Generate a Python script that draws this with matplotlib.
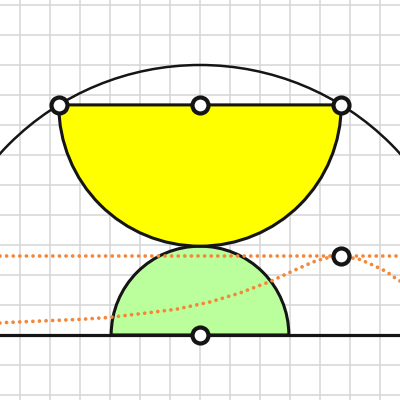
import matplotlib
matplotlib.use("Agg")
import matplotlib.pyplot as plt
import matplotlib.patches as patches
import numpy as np

# construction values (grid units, origin at centre of base line)
big_radius = 9.0
chord_height = 7.67
level_value = 2.63

# orange curve
curve_x = [-6.67, -6.61, -5.23, -4.0, -3.1, -2.23, -1.9, -0.78, 0.33, 1.33,
           2.33, 3.11, 3.78, 4.17, 4.73, 5.33, 5.83, 6.22, 6.56, 6.67]
curve_y = [0.40, 0.41, 0.47, 0.52, 0.58, 0.68, 0.72, 0.86, 1.10, 1.40,
           1.78, 2.14, 2.44, 2.56, 2.63, 2.52, 2.30, 2.11, 1.86, 1.80]

orange = "#f5873a"
ink = "#151515"

fig = plt.figure(figsize=(4, 4), dpi=100)
ax = fig.add_axes([0, 0, 1, 1])
ax.set_xlim(-200 / 30, 200 / 30)
ax.set_ylim(-65 / 30, 335 / 30)
ax.axis("off")

# grid
for gx in np.arange(-6, 7):
    ax.axvline(gx, color="#d6d6d6", lw=1.1, zorder=0)
for gy in np.arange(-2, 12):
    ax.axhline(gy, color="#d6d6d6", lw=1.1, zorder=0)

half_chord = np.sqrt(big_radius ** 2 - chord_height ** 2)
small_radius = chord_height - half_chord

# big arc
ax.add_patch(patches.Arc((0, 0), 2 * big_radius, 2 * big_radius, theta1=0, theta2=180,
                         color=ink, lw=1.8, zorder=2))

# green half-disc
ax.add_patch(patches.Wedge((0, 0), small_radius, 0, 180, facecolor="#bbff9c",
                           edgecolor=ink, lw=2.2, zorder=3))

# yellow half-disc under the chord
ax.add_patch(patches.Wedge((0, chord_height), half_chord, 180, 360, facecolor="#ffff00",
                           edgecolor=ink, lw=2.2, zorder=3))

# orange dotted lines
dots = dict(color=orange, lw=2.7, linestyle=(0, (0.01, 1.75)),
            dash_capstyle="round", zorder=4)
ax.axhline(level_value, **dots)
ax.plot(curve_x, curve_y, **dots)

# base line
ax.axhline(0, color=ink, lw=2.3, zorder=5)

# points
px = [-half_chord, 0, half_chord, 0, half_chord]
py = [chord_height, chord_height, chord_height, 0, level_value]
ax.plot(px, py, "o", ms=11.5, mfc="white", mec=ink, mew=3.0, zorder=6)

fig.savefig("out.png", dpi=100)
